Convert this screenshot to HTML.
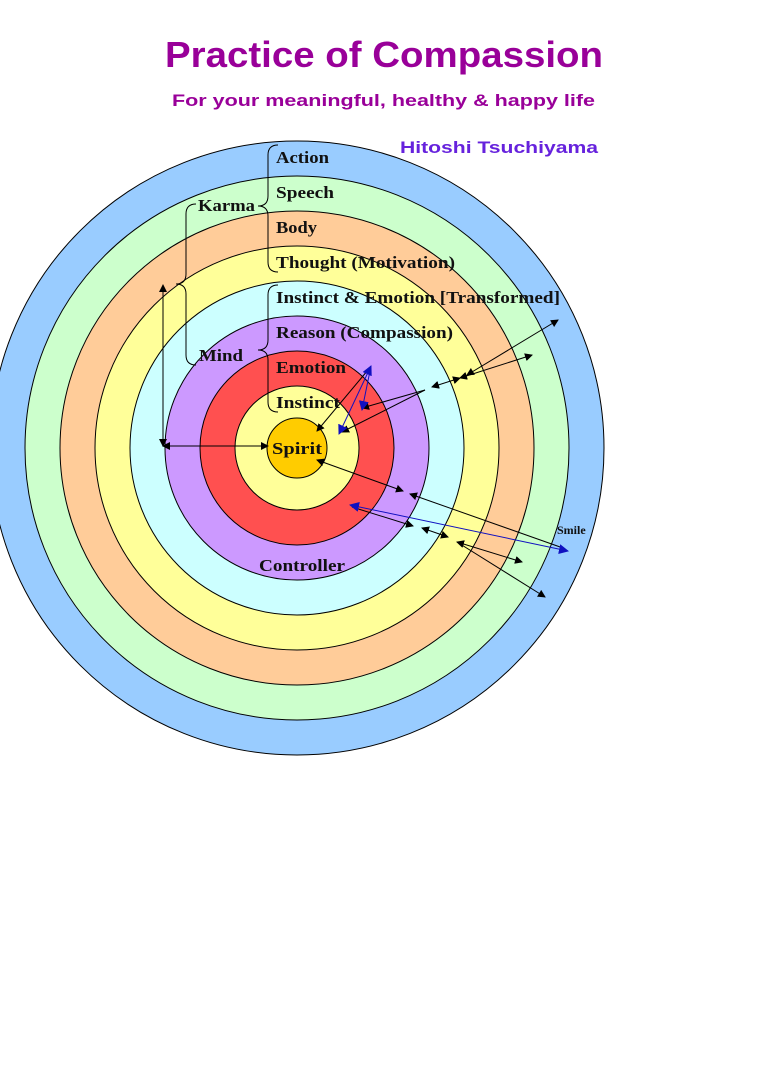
<!DOCTYPE html>
<html><head><meta charset="utf-8"><style>
html,body{margin:0;padding:0;background:#fff;width:768px;height:1087px;overflow:hidden}
svg{display:block}
.t{font-family:"Liberation Serif",serif;font-weight:bold;font-size:17px;fill:#111}
</style></head><body>
<svg width="768" height="1087" viewBox="0 0 768 1087" xmlns="http://www.w3.org/2000/svg">
<defs>
<marker id="a" markerWidth="8" markerHeight="8" refX="7" refY="4" orient="auto-start-reverse" markerUnits="userSpaceOnUse"><path d="M0,0 L8,4 L0,8 z" fill="#000"/></marker>
<marker id="b" markerWidth="10" markerHeight="10" refX="9" refY="5" orient="auto-start-reverse" markerUnits="userSpaceOnUse"><path d="M0,0 L10,5 L0,10 z" fill="#1010c0"/></marker>
</defs>
<text x="165" y="67" textLength="438" lengthAdjust="spacingAndGlyphs" font-family="Liberation Sans,sans-serif" font-weight="bold" font-size="36" fill="#990099">Practice of Compassion</text>
<text x="172" y="106" textLength="423" lengthAdjust="spacingAndGlyphs" font-family="Liberation Sans,sans-serif" font-weight="bold" font-size="17" fill="#990099">For your meaningful, healthy &amp; happy life</text>
<text x="400" y="153" textLength="198" lengthAdjust="spacingAndGlyphs" font-family="Liberation Sans,sans-serif" font-weight="bold" font-size="17" fill="#6622dd">Hitoshi Tsuchiyama</text>
<g stroke="#000" stroke-width="1">
<circle cx="297" cy="448" r="307" fill="#99ccff"/>
<circle cx="297" cy="448" r="272" fill="#ccffcc"/>
<circle cx="297" cy="448" r="237" fill="#ffcc99"/>
<circle cx="297" cy="448" r="202" fill="#ffff99"/>
<circle cx="297" cy="448" r="167" fill="#ccffff"/>
<circle cx="297" cy="448" r="132" fill="#cc99ff"/>
<circle cx="297" cy="448" r="97" fill="#ff5050"/>
<circle cx="297" cy="448" r="62" fill="#ffff99"/>
<circle cx="297" cy="448" r="30" fill="#ffcc00"/>
</g>
<g fill="none" stroke="#000" stroke-width="1">
<path d="M278,145 Q268,145 268,155 L268,196 Q268,206 258,206 Q268,206 268,216 L268,262 Q268,272 278,272"/>
<path d="M278,285 Q268,285 268,295 L268,340 Q268,350 258,350 Q268,350 268,360 L268,402 Q268,412 278,412"/>
<path d="M196,204 Q186,204 186,214 L186,274 Q186,284 176,284 Q186,284 186,294 L186,355 Q186,365 196,365"/>
</g>
<text class="t" x="276" y="163" textLength="53" lengthAdjust="spacingAndGlyphs">Action</text>
<text class="t" x="276" y="198" textLength="58" lengthAdjust="spacingAndGlyphs">Speech</text>
<text class="t" x="276" y="233" textLength="41" lengthAdjust="spacingAndGlyphs">Body</text>
<text class="t" x="276" y="268" textLength="179" lengthAdjust="spacingAndGlyphs">Thought (Motivation)</text>
<text class="t" x="276" y="303" textLength="284" lengthAdjust="spacingAndGlyphs">Instinct &amp; Emotion [Transformed]</text>
<text class="t" x="276" y="338" textLength="177" lengthAdjust="spacingAndGlyphs">Reason (Compassion)</text>
<text class="t" x="276" y="373" textLength="70" lengthAdjust="spacingAndGlyphs">Emotion</text>
<text class="t" x="276" y="408" textLength="64" lengthAdjust="spacingAndGlyphs">Instinct</text>
<text class="t" x="198" y="211" textLength="57" lengthAdjust="spacingAndGlyphs">Karma</text>
<text class="t" x="199" y="361" textLength="44" lengthAdjust="spacingAndGlyphs">Mind</text>
<text class="t" x="272" y="454" textLength="50" lengthAdjust="spacingAndGlyphs">Spirit</text>
<text class="t" x="259" y="571" textLength="86" lengthAdjust="spacingAndGlyphs">Controller</text>
<text x="557" y="534" font-family="Liberation Serif,serif" font-weight="bold" font-size="12" fill="#111">Smile</text>
<g stroke="#000" stroke-width="1" fill="none">
<line x1="163" y1="285" x2="163" y2="446" marker-start="url(#a)" marker-end="url(#a)"/>
<line x1="163" y1="446" x2="268" y2="446" marker-start="url(#a)" marker-end="url(#a)"/>
<line x1="467" y1="375" x2="558" y2="320" marker-start="url(#a)" marker-end="url(#a)"/>
<line x1="460" y1="378" x2="532" y2="355" marker-start="url(#a)" marker-end="url(#a)"/>
<line x1="432" y1="387" x2="460" y2="378" marker-start="url(#a)" marker-end="url(#a)"/>
<line x1="425" y1="390" x2="362" y2="408" marker-end="url(#a)"/>
<line x1="425" y1="390" x2="342" y2="432" marker-end="url(#a)"/>
<line x1="368" y1="370" x2="317" y2="431" marker-end="url(#a)"/>
<line x1="317" y1="460" x2="403" y2="491" marker-start="url(#a)" marker-end="url(#a)"/>
<line x1="410" y1="494" x2="563" y2="548" marker-start="url(#a)"/>
<line x1="352" y1="507" x2="413" y2="526" marker-end="url(#a)"/>
<line x1="422" y1="528" x2="448" y2="537" marker-start="url(#a)" marker-end="url(#a)"/>
<line x1="457" y1="542" x2="522" y2="562" marker-start="url(#a)" marker-end="url(#a)"/>
<line x1="457" y1="542" x2="545" y2="597" marker-end="url(#a)"/>
</g>
<g stroke="#1010c0" stroke-width="1" fill="none">
<line x1="371" y1="366" x2="339" y2="434" marker-start="url(#b)" marker-end="url(#b)"/>
<line x1="371" y1="366" x2="362" y2="410" marker-end="url(#b)"/>
<line x1="350" y1="505" x2="568" y2="551" marker-start="url(#b)" marker-end="url(#b)"/>
</g>
</svg>
</body></html>
